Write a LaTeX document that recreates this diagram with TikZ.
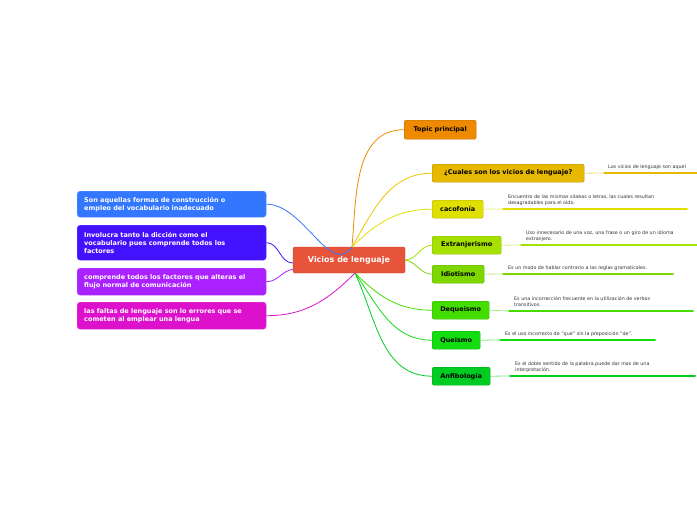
\documentclass[tikz,border=0pt]{standalone}
\usepackage{fontspec}
\setmainfont{DejaVu Sans}
\usetikzlibrary{positioning}
\definecolor{cmain}{HTML}{E8543A}
\definecolor{ctopic}{HTML}{EE8A00}
\definecolor{ccual}{HTML}{E6B800}
\definecolor{ccaco}{HTML}{E0E000}
\definecolor{cextr}{HTML}{A6E000}
\definecolor{cidio}{HTML}{7ED600}
\definecolor{cdeq}{HTML}{44DD00}
\definecolor{cque}{HTML}{11DD11}
\definecolor{canf}{HTML}{00CC22}
\definecolor{cson}{HTML}{3377FF}
\definecolor{cinv}{HTML}{4411FF}
\definecolor{ccom}{HTML}{AA22FF}
\definecolor{cfal}{HTML}{DD11CC}
\begin{document}
\begin{tikzpicture}[x=1pt,y=-1pt,
    topic/.style={draw=#1!80!black,fill=#1,rounded corners=2pt,font=\bfseries\fontsize{6.5}{7.5}\selectfont,
        anchor=north west,inner sep=0pt,minimum height=18pt,text=black},
    side/.style={draw=#1!80!white,fill=#1,rounded corners=3pt,text=white,anchor=north west,
        align=left,text width=175pt,inner xsep=7pt,inner ysep=0pt,font=\bfseries\fontsize{6.5}{8}\selectfont},
    note/.style={anchor=south west,align=left,inner sep=0pt,font=\fontsize{4.8}{6.5}\selectfont,text=black!80},
    uline/.style={#1,line width=2pt,line cap=round},
    link/.style={#1,line width=0.8pt}
    ]
    \useasboundingbox (0,0) rectangle (697,520);
    % main topic
    \node[fill=cmain,draw=cmain!80!black,rounded corners=2pt,text=white,font=\bfseries\fontsize{8}{9}\selectfont,
        minimum width=112pt,minimum height=26pt,inner sep=0pt] (main) at (349,260) {Vicios de lenguaje};
    \coordinate (mt) at (352,247);
    \coordinate (mb) at (355,273);
    % right branches
    \node[topic=ctopic,minimum width=72pt,minimum height=19pt] (tp) at (404,120) {Topic principal};
    \node[topic=ccual,minimum width=152pt] (cual) at (432,164) {¿Cuales son los vicios de lenguaje?};
    \node[topic=ccaco,minimum width=51pt] (caco) at (432,200) {cacofonía};
    \node[topic=cextr,minimum width=69pt] (extr) at (432,236) {Extranjerismo};
    \node[topic=cidio,minimum width=52pt] (idio) at (432,265) {Idiotismo};
    \node[topic=cdeq,minimum width=57pt] (deq) at (432,301) {Dequeismo};
    \node[topic=cque,minimum width=48pt] (que) at (432,331) {Queismo};
    \node[topic=canf,minimum width=58pt] (anf) at (432,367) {Anfibología};
    \draw[link=ctopic] (mt) to[out=85,in=180] (tp.west);
    \draw[link=ccual!80!yellow] (mt) to[out=60,in=180] (cual.west);
    \draw[link=ccaco] (mt) to[out=45,in=180] (caco.west);
    \draw[link=cextr] (main.east) to[out=0,in=180] (extr.west);
    \draw[link=cidio] (main.east) to[out=-10,in=180] (idio.west);
    \draw[link=cdeq] (mb) to[out=-45,in=180] (deq.west);
    \draw[link=cque] (mb) to[out=-55,in=180] (que.west);
    \draw[link=canf] (mb) to[out=-65,in=180] (anf.west);
    % notes
    \coordinate (n1a) at (604,173); \coordinate (n1b) at (697,173);
    \draw[uline=ccual] (n1a) -- (n1b);
    \draw[link=ccual!50] (cual.east) -- (n1a);
    \node[note] at (608,170) {Los vicios de lenguaje son aquel};
    \coordinate (n2a) at (503,209); \coordinate (n2b) at (687,209);
    \draw[uline=ccaco] (n2a) -- (n2b);
    \draw[link=ccaco!50] (caco.east) -- (n2a);
    \node[note] at (508,206) {Encuentro de las mismas silabas o letras, las cuales resultan\\desagradables para el oido.};
    \coordinate (n3a) at (521,245); \coordinate (n3b) at (697,245);
    \draw[uline=cextr] (n3a) -- (n3b);
    \draw[link=cextr!50] (extr.east) -- (n3a);
    \node[note] at (526,242) {Uso innecesario de una voz, una frase o un giro de un idioma\\extranjero.};
    \coordinate (n4a) at (503,274); \coordinate (n4b) at (673,274);
    \draw[uline=cidio] (n4a) -- (n4b);
    \draw[link=cidio!50] (idio.east) -- (n4a);
    \node[note] at (508,271) {Es un modo de hablar contrario a las reglas gramaticales.};
    \coordinate (n5a) at (509,311); \coordinate (n5b) at (693,311);
    \draw[uline=cdeq] (n5a) -- (n5b);
    \draw[link=cdeq!50] (deq.east) -- (n5a);
    \node[note] at (514,307) {Es una incorrección frecuente en la utilización de verbos\\transitivos.};
    \coordinate (n6a) at (500,340); \coordinate (n6b) at (655,340);
    \draw[uline=cque] (n6a) -- (n6b);
    \draw[link=cque!50] (que.east) -- (n6a);
    \node[note] at (505,337) {Es el uso incorrecto de "que" sin la preposición "de".};
    \coordinate (n7a) at (510,376); \coordinate (n7b) at (695,376);
    \draw[uline=canf] (n7a) -- (n7b);
    \draw[link=canf!50] (anf.east) -- (n7a);
    \node[note] at (515,373) {Es el doble sentido de la palabra puede dar mas de una\\interpretación.};
    % left branches
    \node[side=cson,minimum height=26pt] (son) at (77,191) {Son aquellas formas de construcción o\\empleo del vocabulario inadecuado};
    \node[side=cinv,minimum height=35pt] (inv) at (77,225) {Involucra tanto la dicción como el\\vocabulario pues comprende todos los\\factores};
    \node[side=ccom,minimum height=27pt] (com) at (77,268) {comprende todos los factores que alteras el\\flujo normal de comunicación};
    \node[side=cfal,minimum height=27pt] (fal) at (77,302) {las faltas de lenguaje son lo errores que se\\cometen al emplear una lengua};
    \draw[link=cson] (son.east) to[out=0,in=235] (mt);
    \draw[link=cinv] (inv.east) to[out=0,in=180] ([yshift=-3pt]main.west);
    \draw[link=ccom] (com.east) to[out=0,in=190] ([yshift=4pt]main.south west);
    \draw[link=cfal] (fal.east) to[out=0,in=225] (mb);
\end{tikzpicture}
\end{document}
